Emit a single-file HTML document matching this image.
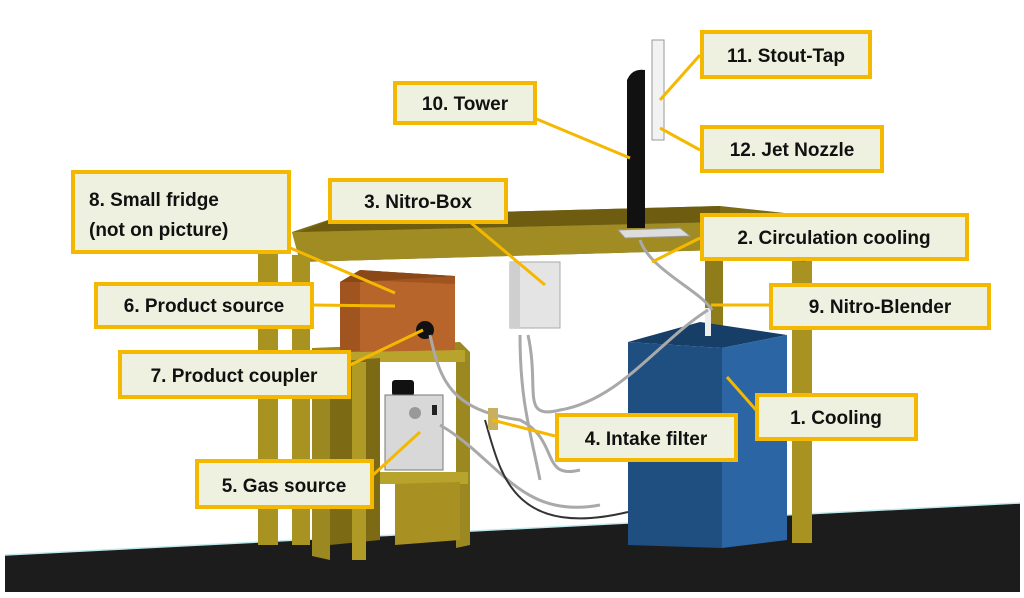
<!DOCTYPE html>
<html><head><meta charset="utf-8"><style>
html,body{margin:0;padding:0;background:#fff;width:1024px;height:598px;overflow:hidden}
svg{display:block}
text{font-family:"Liberation Sans",sans-serif;font-weight:bold;font-size:19px;fill:#111}
</style></head><body>
<svg width="1024" height="598" viewBox="0 0 1024 598" xmlns="http://www.w3.org/2000/svg">
<rect width="1024" height="598" fill="#fff"/>
<polygon points="5,555 1020,503 1020,592 5,592" fill="#1c1c1c"/>
<line x1="5" y1="555" x2="1020" y2="503" stroke="#bfe9ec" stroke-width="1.5"/>
<rect x="258" y="245" width="20" height="300" fill="#a89322"/>
<rect x="792" y="258" width="20" height="285" fill="#a89322"/>
<rect x="705" y="245" width="18" height="90" fill="#8f7d1c"/>
<polygon points="292,232 340,216 720,206 803,215 805,262 720,250 300,262" fill="#7d6a14"/>
<polygon points="292,232 720,222 720,250 300,262" fill="#a08c22"/>
<polygon points="720,222 803,215 805,262 720,250" fill="#8c7a1c"/>
<polygon points="300,232 340,216 720,206 720,222" fill="#6e5d10"/>
<rect x="292" y="255" width="18" height="290" fill="#a89322"/>
<polygon points="312,348 460,342 470,352 470,545 456,548 456,360 330,362 330,560 312,556" fill="#9c8820"/>
<rect x="315" y="350" width="150" height="12" fill="#b8a32c"/>
<polygon points="330,362 380,358 380,540 330,545" fill="#7c6a14"/>
<rect x="380" y="472" width="88" height="12" fill="#b8a32c"/>
<polygon points="395,484 460,482 460,540 395,545" fill="#a89022"/>
<rect x="352" y="362" width="14" height="198" fill="#b09a26"/>
<polygon points="340,282 360,270 455,276 455,350 340,352" fill="#a05420"/>
<polygon points="360,280 455,284 455,350 360,352" fill="#b8652b"/>
<polygon points="340,282 360,270 455,276 360,282" fill="#8a4818"/>
<circle cx="425" cy="330" r="9" fill="#111"/>
<rect x="392" y="380" width="22" height="16" rx="3" fill="#111"/>
<rect x="385" y="395" width="58" height="75" fill="#d8d8d8" stroke="#777"/>
<circle cx="415" cy="413" r="6" fill="#999"/>
<rect x="432" y="405" width="5" height="10" fill="#222"/>
<rect x="510" y="262" width="50" height="66" fill="#e4e4e4" stroke="#aaa"/>
<rect x="510" y="262" width="10" height="66" fill="#cfcfcf"/>
<path d="M627,228 L627,80 Q632,68 645,70 L645,228 Z" fill="#111"/>
<polygon points="618,230 680,228 690,236 625,238" fill="#ddd" stroke="#999"/>
<rect x="652" y="40" width="12" height="100" fill="#f2f2f2" stroke="#999"/>
<polygon points="628,342 700,322 787,335 722,348" fill="#173e66"/>
<polygon points="628,342 722,348 722,548 628,545" fill="#1f4e80"/>
<polygon points="722,348 787,335 787,540 722,548" fill="#2b65a3"/>
<rect x="705" y="308" width="6" height="28" fill="#eee"/>
<g fill="none" stroke="#a9a9a9" stroke-width="3">
<path d="M430,335 C440,380 450,410 520,420 C560,440 540,480 580,470"/>
<path d="M520,335 C520,400 530,430 540,480"/>
<path d="M528,335 C540,390 520,420 560,410 C620,400 660,340 708,310"/>
<path d="M640,240 C650,270 700,290 712,310"/>
<path d="M440,425 C500,460 520,520 600,505"/>
</g>
<path d="M485,420 C500,470 510,540 628,512" fill="none" stroke="#333" stroke-width="2"/>
<rect x="488" y="408" width="10" height="22" fill="#c9b060"/>
<g stroke="#f5b800" stroke-width="3" fill="none">
<line x1="515" y1="110" x2="630" y2="158"/>
<line x1="700" y1="55" x2="660" y2="100"/>
<line x1="700" y1="150" x2="660" y2="128"/>
<line x1="260" y1="235" x2="395" y2="293"/>
<line x1="470" y1="222" x2="545" y2="285"/>
<line x1="700" y1="238" x2="652" y2="262"/>
<line x1="313" y1="305" x2="395" y2="306"/>
<line x1="770" y1="305" x2="711" y2="305"/>
<line x1="350" y1="365" x2="423" y2="330"/>
<line x1="756" y1="410" x2="727" y2="377"/>
<line x1="555" y1="436" x2="492" y2="420"/>
<line x1="373" y1="475" x2="420" y2="432"/>
</g>
<g fill="#eef1df" stroke="#f5b800" stroke-width="4">
<rect x="395" y="83" width="140" height="40"/>
<rect x="702" y="32" width="168" height="45"/>
<rect x="702" y="127" width="180" height="44"/>
<rect x="73" y="172" width="216" height="80"/>
<rect x="330" y="180" width="176" height="42"/>
<rect x="702" y="215" width="265" height="44"/>
<rect x="96" y="284" width="216" height="43"/>
<rect x="771" y="285" width="218" height="43"/>
<rect x="120" y="352" width="229" height="45"/>
<rect x="757" y="395" width="159" height="44"/>
<rect x="557" y="415" width="179" height="45"/>
<rect x="197" y="461" width="175" height="46"/>
</g>
<g text-anchor="middle">
<text x="465" y="110">10. Tower</text>
<text x="786" y="62">11. Stout-Tap</text>
<text x="792" y="156">12. Jet Nozzle</text>
<text x="89" y="206" text-anchor="start">8. Small fridge</text>
<text x="89" y="236" text-anchor="start">(not on picture)</text>
<text x="418" y="208">3. Nitro-Box</text>
<text x="834" y="244">2. Circulation cooling</text>
<text x="204" y="312">6. Product source</text>
<text x="880" y="313">9. Nitro-Blender</text>
<text x="234" y="382">7. Product coupler</text>
<text x="836" y="424">1. Cooling</text>
<text x="646" y="445">4. Intake filter</text>
<text x="284" y="492">5. Gas source</text>
</g>
</svg>
</body></html>
